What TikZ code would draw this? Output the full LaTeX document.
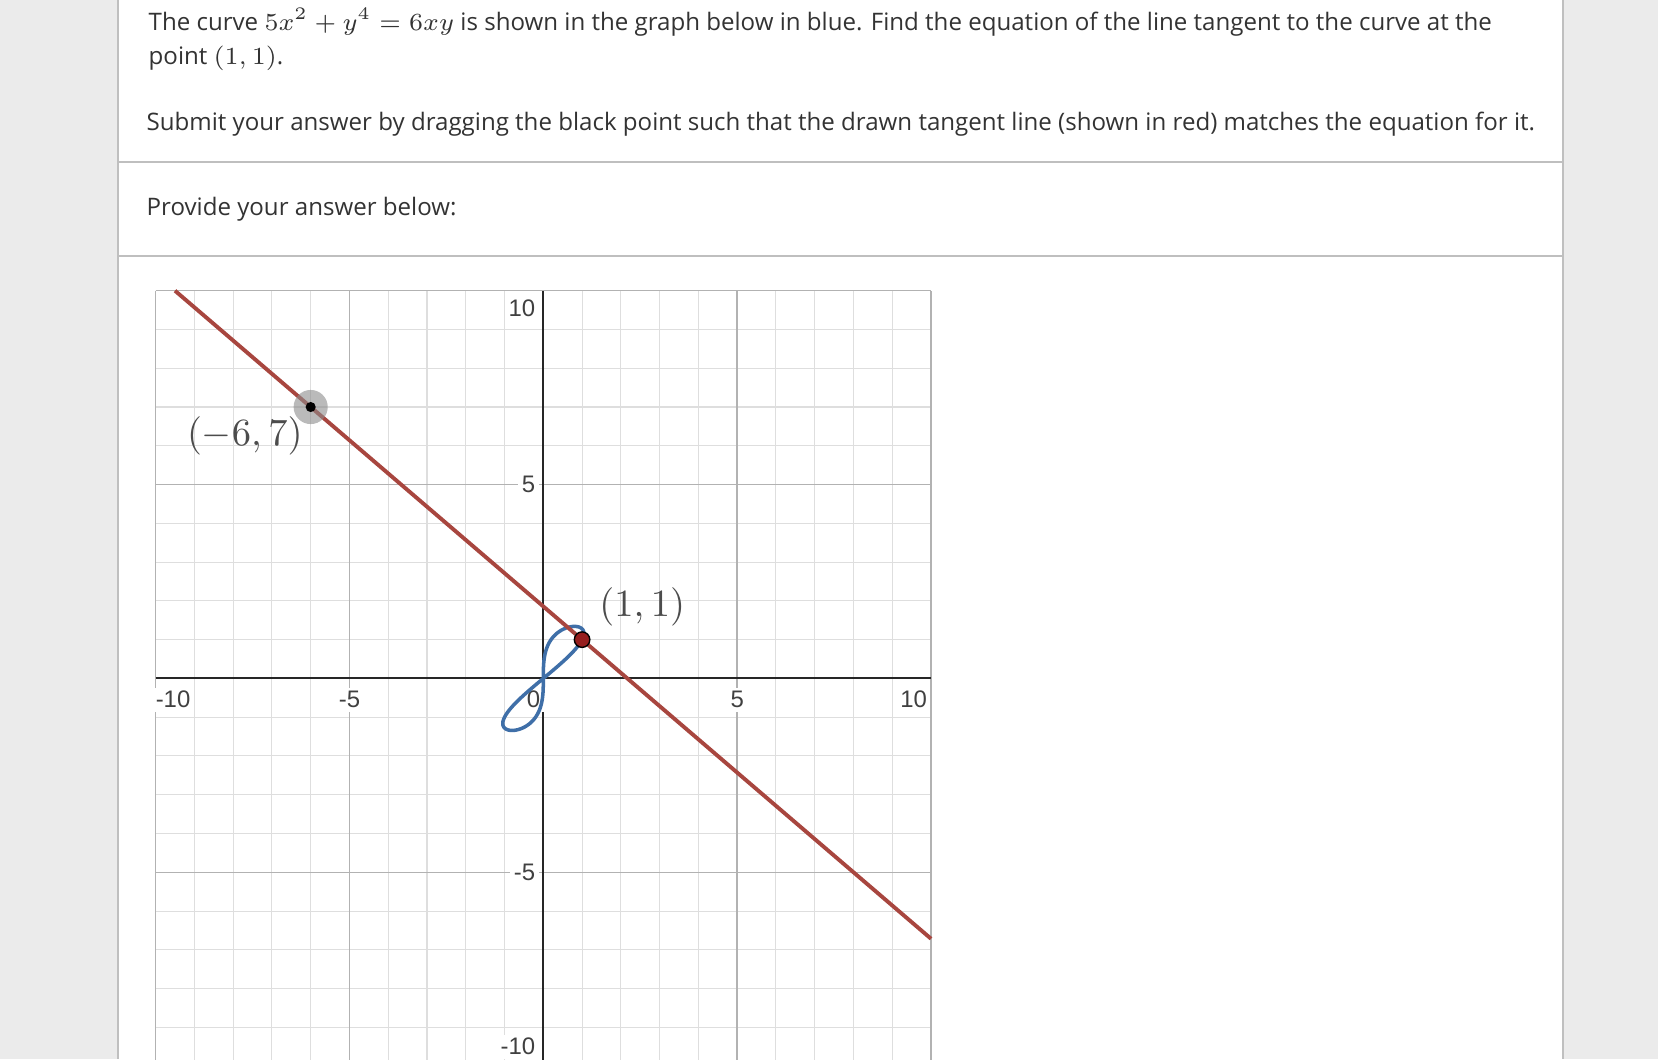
\documentclass[tikz,border=0pt]{standalone}
\usepackage[no-math]{fontspec}
\setmainfont{Open Sans}
\setsansfont{Liberation Sans}

\tikzset{
  prompt/.style={anchor=base west, inner sep=0pt, font=\fontsize{6.85}{9}\selectfont, text=black!80},
  minorgrid/.style={draw=black!13, line width=0.3pt},
  majorgrid/.style={draw=black!30, line width=0.4pt},
  axisline/.style={draw=black!85, line width=0.6pt},
  ticklabel/.style={font=\sffamily\fontsize{6.8}{8}\selectfont, text=black!75, inner sep=1pt, fill=white},
  pointlabel/.style={font=\fontsize{10.5}{12}\selectfont, text=black!70},
}

\begin{document}
\begin{tikzpicture}[x=0.01cm, y=-0.01cm]
\useasboundingbox (0,0) rectangle (1658,1059);
\clip (0,0) rectangle (1658,1059);
% page and panel
\fill[black!8] (0,0) rectangle (1658,1059);
\fill[white] (118,0) rectangle (1563,1059);
\draw[black!25] (118,0) -- (118,1059);
\draw[black!25] (1563,0) -- (1563,1059);
\draw[black!25] (118,162) -- (1563,162);
\draw[black!25] (118,256) -- (1563,256);

% question text
\node (line1) [prompt] at (148,30) {The curve $5x^2+y^4=6xy$ is shown in the graph below in blue. Find the equation of the line tangent to the curve at the};
\node (line2) [prompt] at (148,64) {point $(1,1)$.};
\node (submit) [prompt] at (146,130) {Submit your answer by dragging the black point such that the drawn tangent line (shown in red) matches the equation for it.};
\node (provide) [prompt] at (146,215) {Provide your answer below:};

% graph
\begin{scope}[shift={(5.43cm,-6.78cm)}, x=0.3875cm, y=0.3875cm]
  \fill[white] (-10,-10.5) rectangle (10,10);
  \foreach \i in {-10,...,10} {
    \draw[minorgrid] (\i,-10.5) -- (\i,10);
    \draw[minorgrid] (-10,\i) -- (10,\i);
  }
  \foreach \i in {-10,-5,5,10} {
    \draw[majorgrid] (\i,-10.5) -- (\i,10);
    \draw[majorgrid] (-10,\i) -- (10,\i);
  }
  \draw[axisline] (-10,0) -- (10,0);
  \draw[axisline] (0,-10.5) -- (0,10);

  % tick labels
  \node (xm10) [ticklabel] at (-9.55,-0.55) {-10};
  \node (xm5) [ticklabel] at (-5,-0.55) {-5};
  \node (xo) [ticklabel] at (-0.25,-0.55) {0};
  \node (xp5) [ticklabel] at (5,-0.55) {5};
  \node (xp10) [ticklabel] at (9.55,-0.55) {10};
  \node (yp10) [ticklabel, anchor=east] at (-0.1,9.55) {10};
  \node (yp5) [ticklabel, anchor=east] at (-0.1,5) {5};
  \node (ym5) [ticklabel, anchor=east] at (-0.1,-5) {-5};
  \node (ym10) [ticklabel, anchor=east] at (-0.1,-9.5) {-10};

  % curve 5x^2+y^4=6xy
  \draw[color={rgb,255:red,63;green,111;blue,168}, line width=1pt]
    plot[domain=0:360, samples=181, smooth, variable=\t]
    ({0.804984*sin(\t)*(1+cos(\t))}, {1.341641*sin(\t)});

  % tangent line
  \draw[color={rgb,255:red,168;green,70;blue,63}, line width=1.1pt] (-9.5,10) -- (10,{1-54/7});

  % points
  \coordinate (drag) at (-6,7);
  \coordinate (touch) at (1,1);
  \fill[black!45, opacity=0.6] (drag) circle (0.44);
  \fill[black] (drag) circle (0.13);
  \filldraw[fill={rgb,255:red,150;green,30;blue,30}, draw=black, line width=0.4pt] (touch) circle (0.2);
  \node (draglabel) [pointlabel] at (-7.7,6.25) {$(-6,7)$};
  \node (touchlabel) [pointlabel] at (2.55,1.85) {$(1,1)$};
\end{scope}
\end{tikzpicture}
\end{document}
